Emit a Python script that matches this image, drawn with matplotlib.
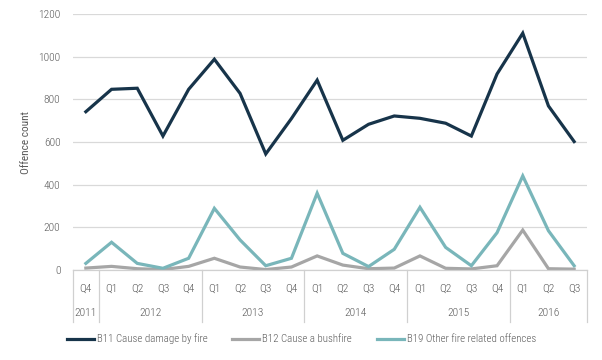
import matplotlib
matplotlib.use("Agg")
import matplotlib.pyplot as plt
from matplotlib.lines import Line2D
from matplotlib import font_manager

quarters = ["Q4", "Q1", "Q2", "Q3", "Q4", "Q1", "Q2", "Q3", "Q4", "Q1",
            "Q2", "Q3", "Q4", "Q1", "Q2", "Q3", "Q4", "Q1", "Q2", "Q3"]
years = ["2011", "2012", "2012", "2012", "2012", "2013", "2013", "2013", "2013", "2014",
         "2014", "2014", "2014", "2015", "2015", "2015", "2015", "2016", "2016", "2016"]

b11 = [742, 847, 852, 628, 847, 988, 828, 544, 710, 890,
       608, 683, 722, 711, 688, 628, 919, 1110, 769, 602]
b12 = [9, 17, 6, 2, 17, 55, 14, 2, 14, 66,
       23, 6, 9, 66, 8, 5, 20, 187, 6, 4]
b19 = [31, 130, 31, 8, 55, 289, 141, 20, 55, 360,
       78, 16, 97, 294, 106, 20, 175, 441, 184, 20]

names = ["B11 Cause damage by fire", "B12 Cause a bushfire", "B19 Other fire related offences"]
colors = ["#17344a", "#a6a6a6", "#79b6ba"]

avail = {f.name for f in font_manager.fontManager.ttflist}
fam = "DejaVu Sans"
for cand in ["Roboto Condensed", "Barlow Semi Condensed", "Archivo Narrow", "Asap Condensed", "Barlow Condensed"]:
    if cand in avail:
        fam = cand
        break
plt.rcParams["font.family"] = [fam, "DejaVu Sans"]
plt.rcParams["font.weight"] = 300
FS = 8.2
LFS = 7.8
TC = "#595959"

W, H = 602, 360
fig = plt.figure(figsize=(W / 100, H / 100), dpi=100)
L, R, T, B = 73, 587, 14, 270
ax = fig.add_axes([L / W, 1 - B / H, (R - L) / W, (B - T) / H])

x = list(range(len(quarters)))
for vals, name, c in zip([b11, b12, b19], names, colors):
    ax.plot(x, vals, color=c, lw=2.3, label=name, solid_joinstyle="miter")

ax.set_xlim(-0.5, len(quarters) - 0.5)
ax.set_ylim(0, 1200)
ax.set_yticks(range(0, 1201, 200))
ax.yaxis.grid(True, color="#d9d9d9", lw=0.9)
ax.set_axisbelow(True)
for s in ["top", "right", "left"]:
    ax.spines[s].set_visible(False)
ax.spines["bottom"].set_color("#d0d0d0")
ax.spines["bottom"].set_linewidth(0.9)
ax.tick_params(axis="y", length=0, pad=9, labelsize=FS, labelcolor=TC)
ax.set_xticks([])
ax.set_ylabel("Offence count", fontsize=FS, color=TC, labelpad=5)

trans = ax.get_xaxis_transform()
axh = B - T
qy = -(289 - B) / axh
yy = -(313 - B) / axh
sep_bottom = -(322 - B) / axh
for i, q in enumerate(quarters):
    ax.text(i, qy, q, transform=trans, ha="center", va="center", fontsize=FS, color=TC)

groups = []
for i, y in enumerate(years):
    if groups and groups[-1][0] == y:
        groups[-1][2] = i
    else:
        groups.append([y, i, i])
bounds = [-0.5]
for y, s, e in groups:
    ax.text((s + e) / 2, yy, y, transform=trans, ha="center", va="center", fontsize=FS, color=TC)
    bounds.append(e + 0.5)
for bx in bounds:
    ax.add_line(Line2D([bx, bx], [0, sep_bottom], transform=trans, color="#d0d0d0", lw=0.9, clip_on=False))

em = LFS * 100 / 72
leg = ax.legend(loc="center", bbox_to_anchor=((301.5 - L) / (R - L), -(339 - B) / axh),
                ncol=3, frameon=False, fontsize=LFS, handlelength=27 / em, handletextpad=3 / em,
                columnspacing=25 / em, borderaxespad=0)
for t in leg.get_texts():
    t.set_color(TC)

fig.savefig("out.png", dpi=100, facecolor="white")
